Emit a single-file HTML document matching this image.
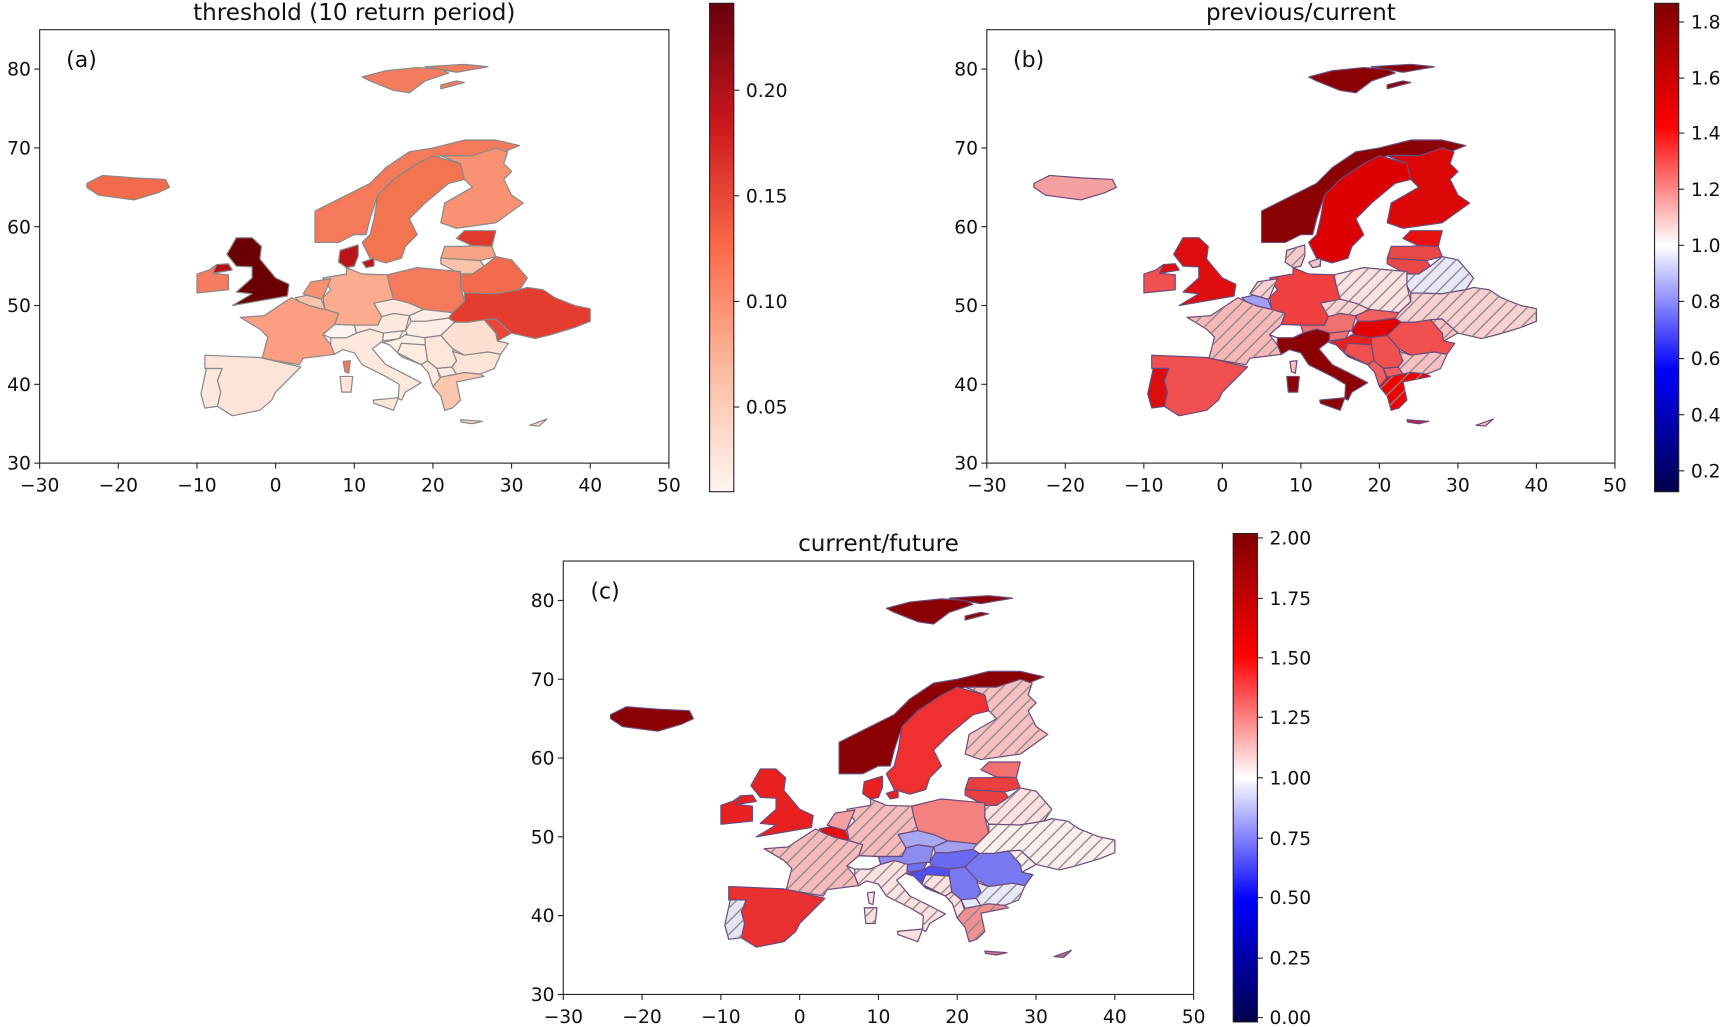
<!DOCTYPE html>
<html><head><meta charset="utf-8"><style>
html,body{margin:0;padding:0;background:#fff;}
svg{display:block;font-family:"DejaVu Sans","Liberation Sans",sans-serif;}
</style></head><body>
<svg id="s" width="1725" height="1027" viewBox="0 0 1568 933.6" xmlns="http://www.w3.org/2000/svg">
<defs>
<linearGradient id="ga" x1="0" y1="1" x2="0" y2="0">
<stop offset="0" stop-color="#fff5f0"/><stop offset="0.25" stop-color="#fcbba1"/><stop offset="0.5" stop-color="#fb6a4a"/><stop offset="0.75" stop-color="#cb181d"/><stop offset="1" stop-color="#67000d"/></linearGradient>
<linearGradient id="gb" x1="0" y1="1" x2="0" y2="0">
<stop offset="0" stop-color="#00004c"/><stop offset="0.25" stop-color="#0000ff"/><stop offset="0.505" stop-color="#ffffff"/><stop offset="0.75" stop-color="#ff0000"/><stop offset="1" stop-color="#800000"/></linearGradient>
<linearGradient id="gc" x1="0" y1="1" x2="0" y2="0">
<stop offset="0" stop-color="#00004c"/><stop offset="0.25" stop-color="#0000ff"/><stop offset="0.5" stop-color="#ffffff"/><stop offset="0.75" stop-color="#ff0000"/><stop offset="1" stop-color="#800000"/></linearGradient>
<pattern id="hatch" patternUnits="userSpaceOnUse" width="12" height="12">
<path d="M-3,3 L3,-3 M0,12 L12,0 M9,15 L15,9" stroke="#888" stroke-width="1.2"/></pattern>
</defs>
<g id="root"></g>
</svg>
<script>
var C={
ice:[[-24,65.5],[-22,66.5],[-18,66.2],[-14,66],[-13.5,65],[-15,64.3],[-18,63.4],[-21,63.8],[-22.5,64],[-24,65]],
sv1:[[11,79],[14,79.8],[18,80.2],[21,80],[22,79.5],[19,78.5],[17,77],[15,77.3],[12,78.5]],
sv2:[[19,80.3],[24,80.6],[27,80.3],[23,79.6]],
sv3:[[21,78],[23,78.5],[24,78.3],[21,77.5]],
nor:[[5,58],[5,62],[8,63.5],[12,65.5],[14,67.5],[17,69.5],[20,70],[24,71],[28,71],[31,70.3],[29,69.5],[25,69],[21,69],[18,68],[15,66],[13,64],[12,61],[11.5,59],[10,59],[8,58],[6,58]],
swe:[[11,58],[12,56],[14,55.4],[16,56],[16.5,57.5],[18,59],[17,61],[19,63],[22,65.5],[24,66],[23.5,68],[20,69],[18,68],[15,66],[13,64],[12.5,61],[12,59]],
fin:[[21,60.5],[21.5,63],[25,65],[24,66],[23.5,68],[21,69],[25,69],[28,70],[29.5,69.5],[29,68],[30,67],[29,66],[30,64],[31.5,63],[28,60.5],[23,59.8]],
est:[[23,58.5],[24,59.5],[28,59.5],[27.5,57.5],[25,57.6]],
lat:[[21,56],[21.5,57.5],[24,57.5],[25,57.6],[27.5,57.5],[28,56.2],[26,55.7]],
lit:[[21,56],[26,55.7],[26.5,55],[25,54],[23.5,54],[21,55.3]],
bel:[[23.5,54],[25,54],[26.5,55],[28,56.2],[30,55.8],[32,53.5],[31,52],[28,51.5],[24,51.6],[23.5,52.5]],
pol:[[14.2,53.9],[18,54.8],[23.5,54.3],[23.5,52.5],[24,50.5],[22.5,49.1],[19,49.4],[15,50.8],[14.5,52.5]],
ger:[[6,53.5],[9,54],[9,54.8],[11,54],[14.2,53.9],[14.5,52.5],[15,50.8],[12.5,50.3],[13.5,48.6],[13,47.5],[10,47.5],[7.5,47.6],[8,49],[6.3,49.5],[6,51],[7,52]],
nld:[[3.5,51.5],[4.5,53],[7,53.4],[6,51],[5.8,50.8],[4,51.3]],
bgm:[[2.5,51],[4,51.3],[5.8,50.8],[6.3,49.5],[4.5,49.9],[3,50.5]],
fra:[[-4.5,48.5],[-1.5,48.7],[2,51],[3,50.5],[4.5,49.9],[6.3,49.5],[8,49],[7.5,47.6],[6,46.3],[7,45],[7.5,43.8],[3.5,43.3],[3,42.5],[-1.7,43.3],[-1,46],[-2,47]],
spa:[[-9,43.7],[-2,43.4],[3.2,42.2],[0,39],[-0.5,38],[-2,36.7],[-5.5,36],[-7.4,37.2],[-7,39],[-7.4,40.5],[-6.8,42],[-9,42]],
por:[[-8.8,42],[-6.8,42],[-7.4,40.5],[-7,39],[-7.4,37.2],[-9,37],[-9.5,38.8]],
swi:[[6,46.3],[7.5,47.6],[10,47.5],[10.3,46.5],[9,45.9],[7,45.9]],
aut:[[10,47.5],[13,47.5],[13.5,48.6],[15,49],[17,48.7],[16.5,46.8],[14,46.4],[12,47],[10.3,46.5]],
cze:[[12.5,50.3],[15,50.8],[17,50.3],[18.8,49.5],[17,48.7],[15,49],[13.5,48.6]],
svk:[[17,48.7],[18.8,49.5],[22.5,49.1],[22,48.4],[19,48],[17.2,48]],
hun:[[16.5,46.8],[17.2,48],[19,48],[22,48.4],[22.8,47.9],[21,46.2],[18.8,45.9],[17,45.8]],
slo:[[13.6,45.5],[13.7,46.5],[16.2,46.8],[15.7,45.8]],
cro:[[13.6,45.3],[15.7,45.8],[16.5,46.3],[19,45.9],[19,45],[16,45.2],[15.5,44],[18.5,42.5],[16,43.5],[14.5,45]],
ser:[[19,45.9],[21,46.2],[22.5,44.5],[23,43],[22.4,42.2],[20.5,42],[19.3,43],[19,45]],
bos:[[16,45.2],[19,45],[19.3,43],[18.5,42.5],[15.5,44]],
alb:[[18.5,42.5],[19.3,43],[20.5,42],[21,40.5],[20,39.7],[19.4,41.5]],
mac:[[20.5,42],[22.4,42.2],[23,41.3],[21,40.9]],
rom:[[21,46.2],[22.8,47.9],[24.5,47.9],[26.5,48.2],[28,46.5],[28.2,45.5],[29.6,45.2],[28.6,43.8],[27,44.1],[24,43.7],[22.5,44.5]],
mol:[[26.5,48.2],[28,48.3],[30,46.5],[28.2,45.5],[28,46.5]],
bul:[[22.4,42.2],[23,43],[22.5,44.2],[24,43.7],[27,44.1],[28.6,43.8],[27.8,42],[26,41.3],[24,41.5],[23,41.3]],
gre:[[20,39.7],[21,40.9],[23,41.3],[24,41.5],[26,41.3],[26.5,41],[23,40.3],[23.5,38],[22.5,37],[21.5,36.7],[21,38.5]],
ita:[[7,45.9],[9,45.9],[10.3,46.5],[12,47],[13.7,46.5],[13.6,45.5],[12.3,44.5],[14,42.5],[16,41.5],[18.5,40.2],[16.5,39],[16,38],[15.6,38.2],[15.7,40],[14,41],[11,42.5],[10,44],[8.5,44.4],[7.5,43.8],[7,45]],
sic:[[12.4,38],[15.6,38.3],[15,36.7],[12.5,37.6]],
sar:[[8.2,41],[9.8,41],[9.6,39],[8.4,39]],
cor:[[8.6,42.9],[9.5,43],[9.3,41.4],[8.8,41.6]],
ukr:[[22.5,49.1],[24,50.5],[24,51.6],[28,51.5],[31,52],[32,52.3],[34,52],[35.5,51],[38,50],[40,49.6],[40,48],[38,47.2],[35,46.3],[33,45.8],[30,46.5],[28,48.3],[26.5,48.2],[24.5,47.9],[22.8,47.9],[22,48.4]],
uk:[[-5.5,50],[1.5,51.2],[1.7,52.7],[0,53.5],[-2,55.9],[-1.8,57.5],[-3,58.6],[-5,58.6],[-6.2,56.5],[-5,55],[-3,54.9],[-3,53.5],[-5,51.7],[-3,51.5]],
nir:[[-8,54.1],[-5.5,54.5],[-6,55.3],[-7.5,55.2]],
irl:[[-10,51.6],[-6,52],[-6,53.9],[-8,54.1],[-7.5,55.2],[-8.5,54.5],[-10,54]],
den:[[8,55.5],[8.2,57],[10.5,57.7],[10.5,56.3],[10,55],[9,54.8]],
zea:[[11,55.5],[12.5,56],[12.5,55],[11.5,54.8]],
cre:[[23.5,35.5],[26.3,35.3],[25,35.0],[23.6,35.2]],
cyp:[[32.3,34.8],[34.5,35.6],[33.5,34.7]]
};
var A={ice:'#f26b4c',sv1:'#f47c5e',sv2:'#f47c5e',sv3:'#f47c5e',nor:'#f47a5b',swe:'#f3754f',fin:'#f89273',est:'#e0382b',lat:'#f8a385',lit:'#fcc2aa',bel:'#f26b4d',pol:'#f47a5b',ger:'#fcab8f',nld:'#f9906f',bgm:'#fcc4ab',fra:'#fb9e81',spa:'#fee4d8',por:'#fee8de',swi:'#fff5f0',aut:'#fee9df',cze:'#fee8dd',svk:'#feede4',hun:'#feede4',slo:'#fff0e8',cro:'#feeee6',ser:'#fee6da',bos:'#feece3',alb:'#fee8de',mac:'#feeae0',rom:'#fde0d2',mol:'#e8473a',bul:'#fde4d7',gre:'#fcc5ad',ita:'#fee8de',sic:'#fee6da',sar:'#fee3d6',cor:'#f37a5c',ukr:'#e43d2f',uk:'#6b0000',nir:'#b0121a',irl:'#f47b5d',den:'#b81419',zea:'#b81419',cre:'#fdd5c4',cyp:'#fdd5c4'};
var B={ice:'#f4a0a0',sv1:'#8b0000',sv2:'#8b0000',sv3:'#8b0000',nor:'#8b0000',swe:'#dd0000',fin:'#dc0808',est:'#e81010',lat:'#e84848',lit:'#e84848',bel:'#e6e8f8',pol:'#fde0e0',ger:'#f04040',nld:'#fbd0d0',bgm:'#a0a0f8',fra:'#f8b8b8',spa:'#f05050',por:'#dd0d0d',swi:'#ffffff',aut:'#f07070',cze:'#fbd0d0',svk:'#f06060',hun:'#e00000',slo:'#f07070',cro:'#e82020',ser:'#f05050',bos:'#f05050',alb:'#f06060',mac:'#f06060',rom:'#f05050',mol:'#f8c0c0',bul:'#f8c0c0',gre:'#f00000',ita:'#8b0000',sic:'#8b0000',sar:'#8b0000',cor:'#f8c0c0',ukr:'#f8d0d0',uk:'#dd0d0d',nir:'#dd0d0d',irl:'#f05050',den:'#f8c8c8',zea:'#f8c8c8',cre:'#c02060',cyp:'#f8c0c0'};
var HB={bel:1,pol:1,nld:1,fra:1,cze:1,mol:1,bul:1,ukr:1,den:1,zea:1,gre:1};
var Cc={ice:'#8b0000',sv1:'#8b0000',sv2:'#8b0000',sv3:'#8b0000',nor:'#8b0000',swe:'#f03030',fin:'#f6c0c0',est:'#f07070',lat:'#e84040',lit:'#e84040',bel:'#fce0e0',pol:'#f48080',ger:'#f6baba',nld:'#f4a0a0',bgm:'#e21010',fra:'#f6baba',spa:'#ea3030',por:'#e4e4f6',swi:'#ffffff',aut:'#8c8cf0',cze:'#a8a8f2',svk:'#a0a0f0',hun:'#6a6af0',slo:'#7070f0',cro:'#5050f0',ser:'#7878f0',bos:'#fde0e0',alb:'#fde0e0',mac:'#e8e8fa',rom:'#7878f0',mol:'#fdeeee',bul:'#e8e8fa',gre:'#f09090',ita:'#fde0e0',sic:'#fde0e0',sar:'#fde0e0',cor:'#fde0e0',ukr:'#fdeeee',uk:'#e82020',nir:'#e82020',irl:'#e82020',den:'#e82020',zea:'#e82020',cre:'#d07090',cyp:'#d07090'};
var HC={fin:1,bel:1,ukr:1,mol:1,ger:1,fra:1,por:1,ita:1,sar:1,bul:1,gre:1,bos:1,alb:1};
var NS='http://www.w3.org/2000/svg';
var root=document.getElementById('root');
function el(t,a,p){var e=document.createElementNS(NS,t);for(var k in a)e.setAttribute(k,a[k]);(p||root).appendChild(e);return e;}
function txt(x,y,s,a,sz){var e=el('text',{x:x,y:y,'font-size':sz||17,'text-anchor':a||'middle',fill:'#111'});e.textContent=s;return e;}
function panel(x0,x1,y0,y1,cols,hat,edge,label,title){
  var sx=(x1-x0)/80, sy=(y1-y0)/55;
  function X(l){return x0+(l+30)*sx;} function Y(l){return y0+(85-l)*sy;}
  for(var k in C){var d=C[k].map(function(p,i){return (i?'L':'M')+X(p[0]).toFixed(1)+','+Y(p[1]).toFixed(1);}).join('')+'Z';
    el('path',{d:d,fill:cols[k],stroke:edge,'stroke-width':1.1,'stroke-linejoin':'round'});
    if(hat&&hat[k])el('path',{d:d,fill:'url(#hatch)',stroke:'none'});}
  el('rect',{x:x0,y:y0,width:x1-x0,height:y1-y0,fill:'none',stroke:'#222','stroke-width':1});
  for(var l=-30;l<=50;l+=10){var x=X(l);el('line',{x1:x,x2:x,y1:y1,y2:y1+5,stroke:'#222'});txt(x,y1+26,(l<0?'\u2212':'')+Math.abs(l));}
  for(var l=30;l<=80;l+=10){var y=Y(l);el('line',{x1:x0-5,x2:x0,y1:y,y2:y,stroke:'#222'});txt(x0-8,y+6,''+l,'end');}
  txt(x0+38,y0+34,label,'middle',20);
  txt((x0+x1)/2,y0-9,title,'middle',21);
}
function cbar(x,y0,y1,g,ticks){
  el('rect',{x:x,y:y0,width:22,height:y1-y0,fill:'url(#'+g+')',stroke:'#222','stroke-width':1});
  ticks.forEach(function(t){el('line',{x1:x+22,x2:x+27,y1:t[1],y2:t[1],stroke:'#222'});txt(x+33,t[1]+6,t[0],'start');});
}
panel(36,608,27,421,A,null,'#888','(a)','threshold (10 return period)');
cbar(645,3,447,'ga',[['0.20',82],['0.15',178],['0.10',274],['0.05',370]]);
panel(897,1468,27,421,B,HB,'#6a4a7a','(b)','previous/current');
cbar(1504,3,447,'gb',[['1.8',20],['1.6',71],['1.4',121],['1.2',172],['1.0',223],['0.8',274],['0.6',326],['0.4',377],['0.2',428]]);
panel(512,1085,510,904,Cc,HC,'#6a4a7a','(c)','current/future');
cbar(1121,485,929,'gc',[['2.00',489],['1.75',544],['1.50',598],['1.25',652],['1.00',707],['0.75',762],['0.50',816],['0.25',871],['0.00',925]]);
</script>
</body></html>
